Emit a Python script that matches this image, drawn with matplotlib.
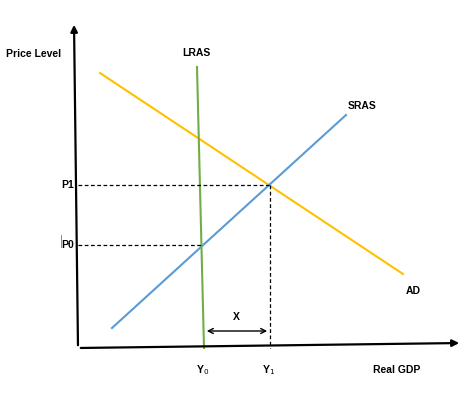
import matplotlib
matplotlib.use("Agg")
import matplotlib.pyplot as plt

# curve end points (x = real GDP, y = price level, arbitrary units)
lras_x = [119, 126]
lras_y = [281, 0]
sras_x = [34, 268]
sras_y = [20, 233]
ad_x = [22, 325]
ad_y = [275, 74]

p_levels = [103, 163]
p_labels = ["P0", "P1"]
y_levels = [126, 192]
y_labels = ["Y$_0$", "Y$_1$"]

plt.rcParams['font.family'] = ['Liberation Sans', 'DejaVu Sans']

fig = plt.figure(figsize=(4.74, 3.95), dpi=100)
ax = fig.add_axes([0, 0, 1, 1])
ax.set_xlim(-78, 396)
ax.set_ylim(-47, 348)
ax.axis("off")

# axes with arrows
ax.annotate("", xy=(-4, 326), xytext=(0, 0),
            arrowprops=dict(arrowstyle="-|>", color="black", lw=1.6, mutation_scale=10))
ax.annotate("", xy=(384, 5), xytext=(0, 0),
            arrowprops=dict(arrowstyle="-|>", color="black", lw=1.6, mutation_scale=10))

ax.plot(ad_x, ad_y, color="#FFC000", lw=1.5)
ax.plot(sras_x, sras_y, color="#5B9BD5", lw=1.5)
ax.plot(lras_x, lras_y, color="#70AD47", lw=1.5)

# guide lines
ax.plot([0, 191], [p_levels[1], p_levels[1]], color="black", lw=0.9, ls=(0, (3, 2)))
ax.plot([0, 124], [p_levels[0], p_levels[0]], color="black", lw=0.9, ls=(0, (3, 2)))
ax.plot([y_levels[1], y_levels[1]], [p_levels[1], 0], color="black", lw=0.9, ls=(0, (3, 2)))

# X gap arrow
ax.annotate("", xy=(y_levels[0], 17), xytext=(y_levels[1], 17),
            arrowprops=dict(arrowstyle="<->", color="black", lw=1.0, mutation_scale=9))
ax.text(158, 31, "X", ha="center", va="center", fontsize=7.5, fontweight="bold")

fs = 7.5
ax.text(-44, 294, "Price Level", ha="center", va="center", fontsize=fs, fontweight="bold")
for lv, lb in zip(p_levels, p_labels):
    ax.text(-10, lv, lb, ha="center", va="center", fontsize=fs, fontweight="bold")
ax.plot([-17, -17], [p_levels[0] - 2, p_levels[0] + 10], color="#777777", lw=0.6)
for xv, lb in zip(y_levels, y_labels):
    ax.text(xv - 1, -22, lb, ha="center", va="center", fontsize=fs, fontweight="bold")
ax.text(118, 295, "LRAS", ha="center", va="center", fontsize=fs, fontweight="bold")
ax.text(284, 242, "SRAS", ha="center", va="center", fontsize=fs, fontweight="bold")
ax.text(335, 57, "AD", ha="center", va="center", fontsize=fs, fontweight="bold")
ax.text(319, -22, "Real GDP", ha="center", va="center", fontsize=fs, fontweight="bold")

fig.savefig("out.png", dpi=100)
